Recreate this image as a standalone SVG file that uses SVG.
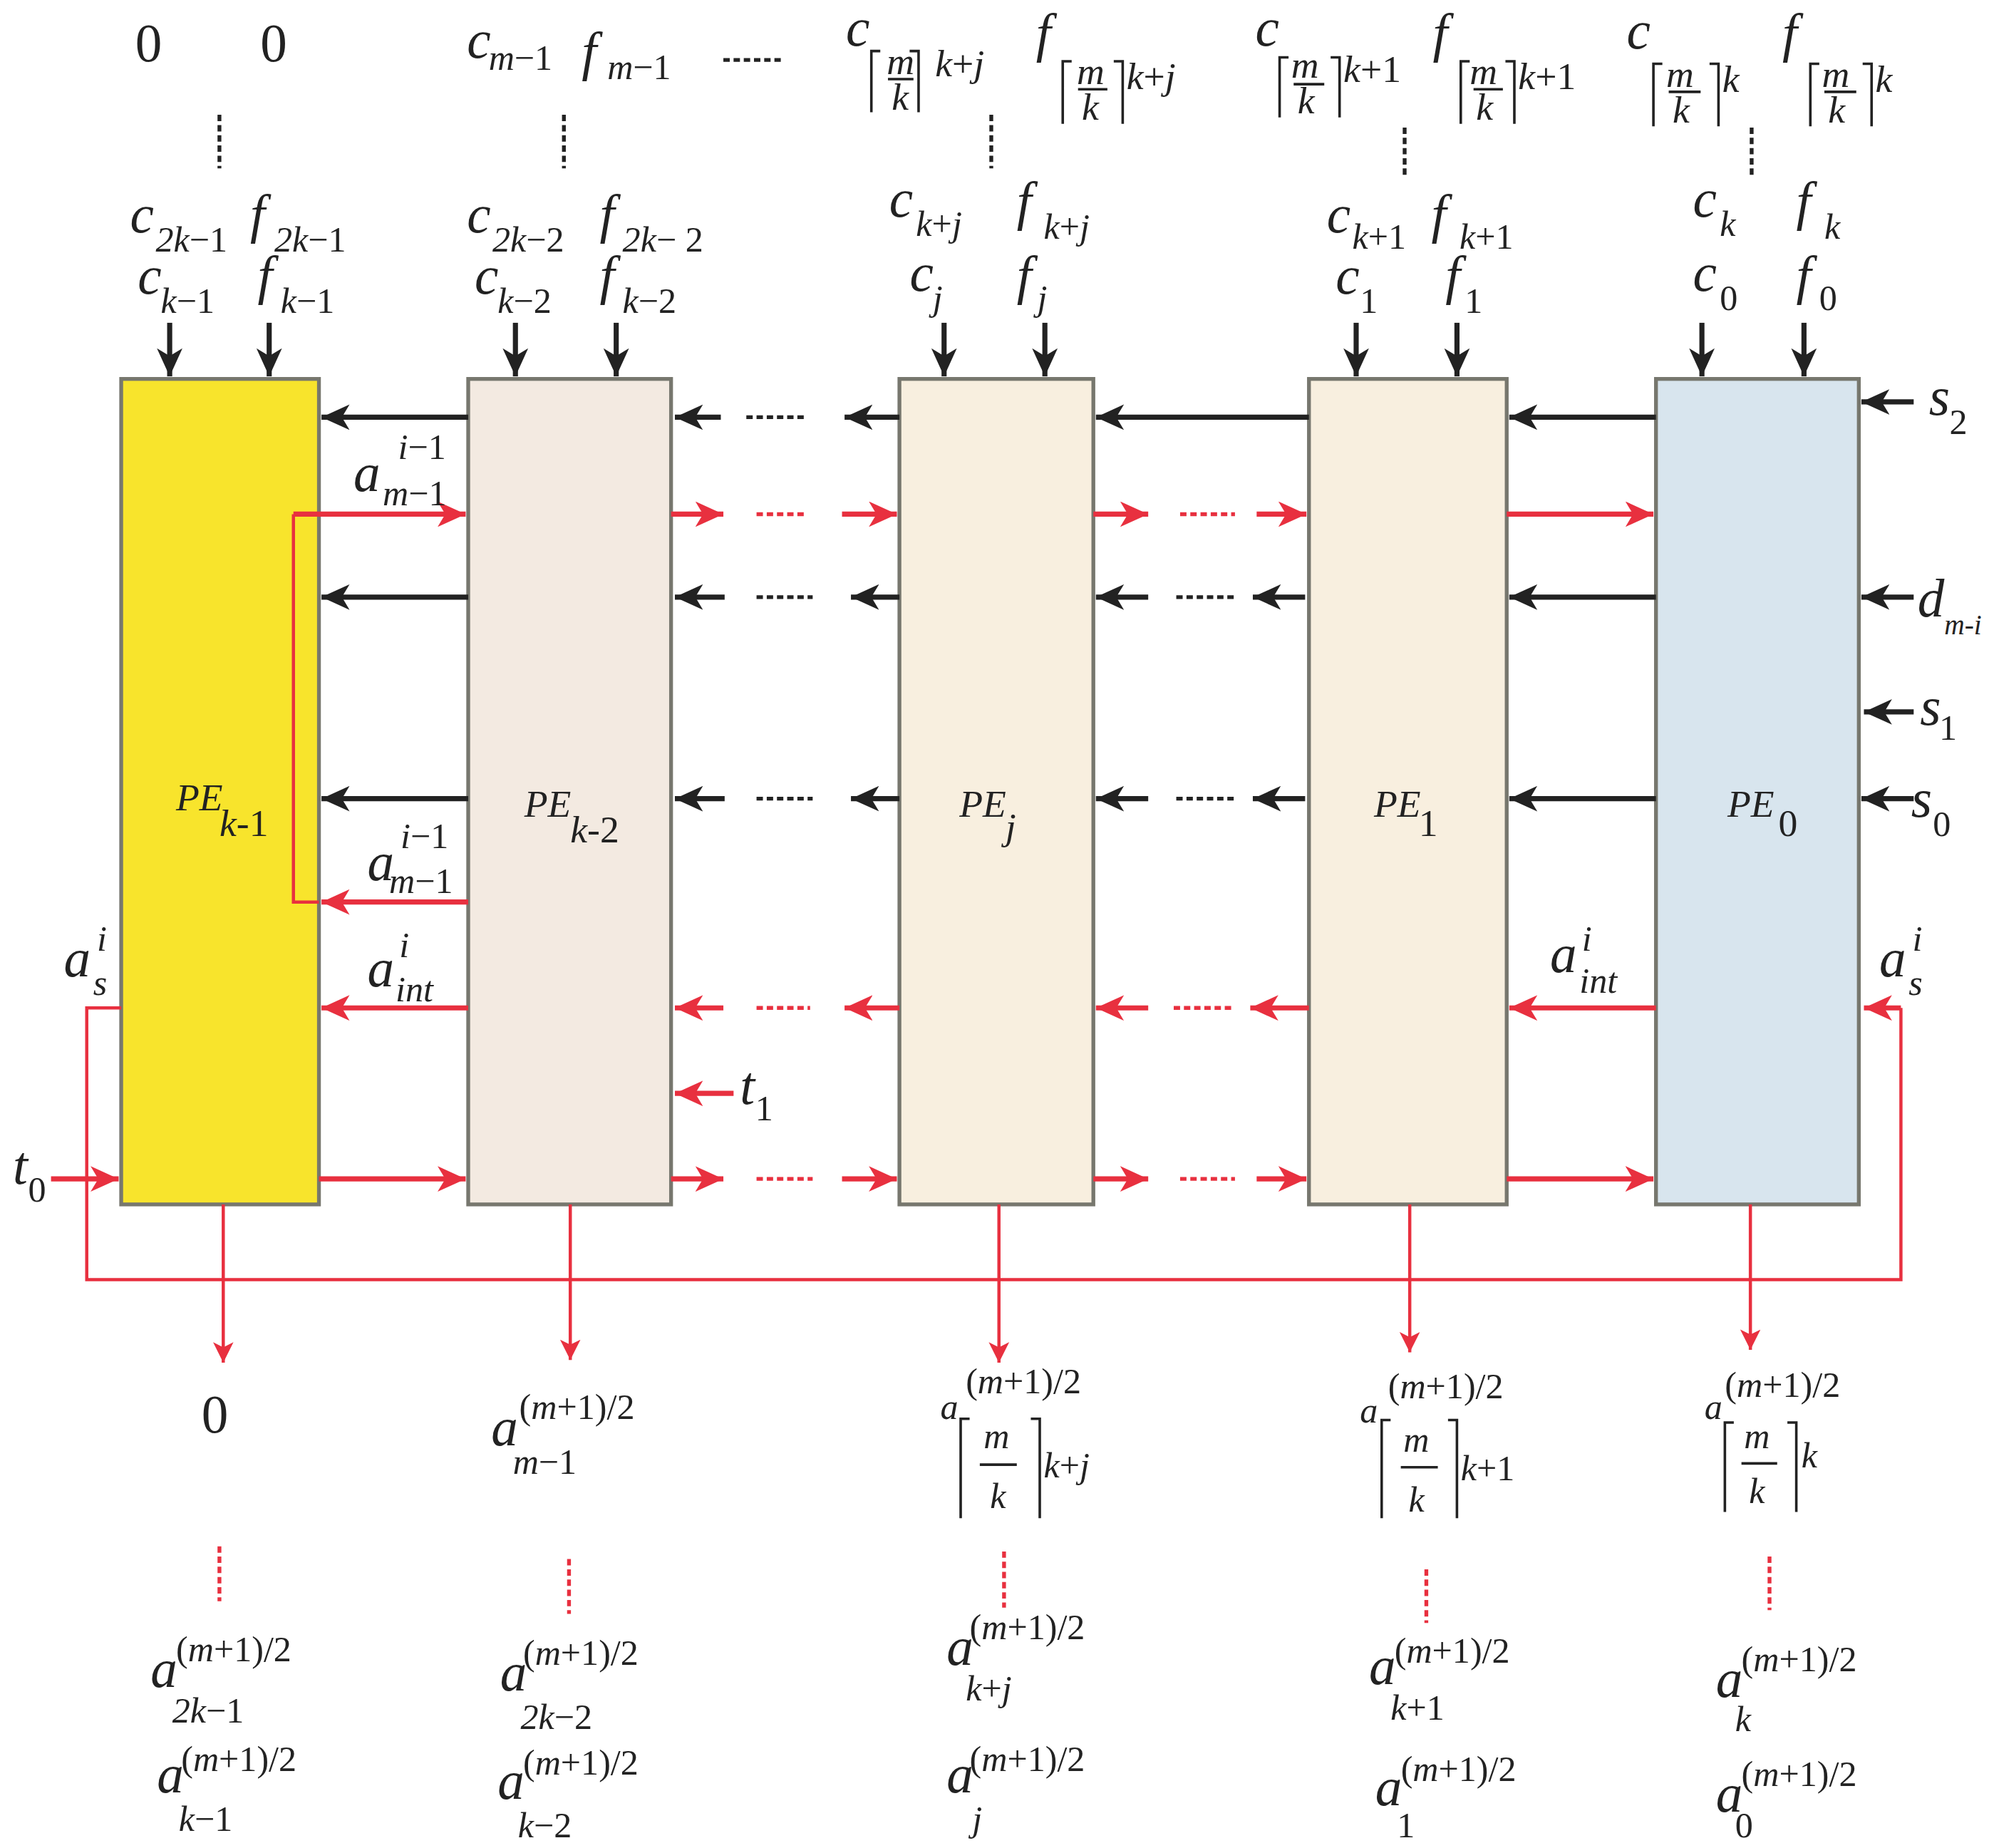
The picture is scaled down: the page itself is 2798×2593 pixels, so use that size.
<svg xmlns="http://www.w3.org/2000/svg" width="2798" height="2593" viewBox="0 0 2798 2593">
<style>
.t{font-family:"Liberation Serif","DejaVu Serif",serif;font-style:italic;fill:#222}
.m{font-size:42px}.s{font-size:28px}.u{font-size:30px}.n{font-style:normal}
.box{stroke:#77776e;stroke-width:3}
.bk{stroke:#222;stroke-width:4;fill:none;marker-end:url(#hb)}
.rd{stroke:#e8303f;stroke-width:4;fill:none;marker-end:url(#hr)}
.ro{stroke:#e8303f;stroke-width:2.5;fill:none;marker-end:url(#hr2)}
.rt{stroke:#e8303f;stroke-width:2.5;fill:none}
.bd{stroke:#222;stroke-width:3;fill:none;stroke-dasharray:5 3}
.rdd{stroke:#e8303f;stroke-width:3;fill:none;stroke-dasharray:5 3}
.br{stroke:#222;stroke-width:2;fill:none}
</style>
<defs>
<marker id="hb" markerUnits="userSpaceOnUse" markerWidth="24" markerHeight="20" refX="22" refY="10" orient="auto"><path d="M0,0L22,10L0,20L6,10Z" fill="#222"/></marker>
<marker id="hr" markerUnits="userSpaceOnUse" markerWidth="24" markerHeight="20" refX="22" refY="10" orient="auto"><path d="M0,0L22,10L0,20L6,10Z" fill="#e8303f"/></marker>
<marker id="hr2" markerUnits="userSpaceOnUse" markerWidth="18" markerHeight="16" refX="16" refY="8" orient="auto"><path d="M0,0L16,8L0,16L4,8Z" fill="#e8303f"/></marker>
</defs>
<rect width="2798" height="2593" fill="#fff"/>
<g transform="scale(1.7902)">
<g id="pe_k1"><rect class="box" x="95" y="297" width="155" height="647" fill="#f8e42c"/><text class="t" x="138" y="635" font-size="30">PE</text><text class="t" x="172" y="655" font-size="30">k<tspan class="n">-1</tspan></text></g>
<g id="pe_k2"><rect class="box" x="367" y="297" width="159" height="647" fill="#f3eae1"/><text class="t" x="411" y="640" font-size="30">PE</text><text class="t" x="447" y="660" font-size="30">k<tspan class="n">-2</tspan></text></g>
<g id="pe_j"><rect class="box" x="705" y="297" width="152" height="647" fill="#f8efdf"/><text class="t" x="752" y="640" font-size="30">PE</text><text class="t" x="788" y="658" font-size="30">j</text></g>
<g id="pe_1"><rect class="box" x="1026" y="297" width="155" height="647" fill="#f8efdf"/><text class="t" x="1077" y="640" font-size="30">PE</text><text class="t n" x="1112" y="655" font-size="30">1</text></g>
<g id="pe_0"><rect class="box" x="1298" y="297" width="159" height="647" fill="#d8e5ee"/><text class="t" x="1354" y="640" font-size="30">PE</text><text class="t n" x="1394" y="655" font-size="30">0</text></g>

<g id="connectors">
<path class="bk" d="M133,253V295"/><path class="bk" d="M211,253V295"/><path class="bk" d="M404,253V295"/><path class="bk" d="M483,253V295"/><path class="bk" d="M740,253V295"/><path class="bk" d="M819,253V295"/><path class="bk" d="M1063,253V295"/><path class="bk" d="M1142,253V295"/><path class="bk" d="M1334,253V295"/><path class="bk" d="M1414,253V295"/>
<path class="bk" d="M367,327H252"/><path class="bk" d="M565,327H529"/><path class="bk" d="M705,327H662"/><path class="bk" d="M1026,327H859"/><path class="bk" d="M1298,327H1183"/><path class="bk" d="M1500,315H1459"/>
<path class="bk" d="M367,468H252"/><path class="bk" d="M568,468H529"/><path class="bk" d="M705,468H667"/><path class="bk" d="M900,468H859"/><path class="bk" d="M1023,468H982"/><path class="bk" d="M1298,468H1183"/><path class="bk" d="M1500,468H1459"/>
<path class="bk" d="M367,626H252"/><path class="bk" d="M568,626H529"/><path class="bk" d="M705,626H667"/><path class="bk" d="M900,626H859"/><path class="bk" d="M1023,626H982"/><path class="bk" d="M1298,626H1183"/><path class="bk" d="M1500,626H1459"/><path class="bk" d="M1500,558H1461"/>
<path class="bd" d="M585,327H632M593,468H637M593,626H637M922,468H967M922,626H967"/>
<path class="rd" d="M230,403H365"/><path class="rd" d="M526,403H567"/><path class="rd" d="M660,403H703"/><path class="rd" d="M857,403H900"/><path class="rd" d="M985,403H1024"/><path class="rd" d="M1181,403H1296"/>
<path class="rd" d="M250,924H365"/><path class="rd" d="M526,924H567"/><path class="rd" d="M660,924H703"/><path class="rd" d="M857,924H900"/><path class="rd" d="M985,924H1024"/><path class="rd" d="M1181,924H1296"/><path class="rd" d="M40,924H93"/>
<path class="rdd" d="M593,403H632M925,403H968M593,924H637M925,924H968M593,790H635M920,790H965"/>
<path class="rd" d="M367,790H252"/><path class="rd" d="M567,790H529"/><path class="rd" d="M705,790H662"/><path class="rd" d="M900,790H859"/><path class="rd" d="M1026,790H980"/><path class="rd" d="M1298,790H1183"/><path class="rd" d="M575,857H529"/>
<path class="rt" d="M230,403V707H250"/>
<path class="rd" d="M367,707H252"/>
<path class="rt" d="M95,790H68V1003H1490V790"/>
<path class="rd" d="M1490,790H1461"/>
<path class="ro" d="M175,944V1068"/><path class="ro" d="M447,944V1066"/><path class="ro" d="M783,944V1068"/><path class="ro" d="M1105,944V1060"/><path class="ro" d="M1372,944V1058"/>
<path class="bd" d="M172,90V132M442,90V132M777,90V132M1101,100V140M1373,100V140M567,47H612"/>
<path class="rdd" d="M172,1212V1255M446,1222V1265M787,1216V1260M1118,1230V1272M1387,1220V1262"/>
</g>

<g id="labels" font-family="Liberation Serif, DejaVu Serif, serif">
<text class="t n m" x="106" y="48">0</text><text class="t n m" x="204" y="48">0</text>
<text class="t m" x="366" y="45">c</text><text class="t s" x="383" y="55">m<tspan class="n">−1</tspan></text>
<text class="t m" x="456" y="55">f</text><text class="t s" x="476" y="62">m<tspan class="n">−1</tspan></text>
<text class="t m" x="663" y="36">c</text><path class="br" d="M683,88V40H690M720,88V40H713M696,62H716"/><text class="t u" x="695" y="58">m</text><text class="t u" x="699" y="86">k</text><text class="t u" x="733" y="60">k<tspan class="n">+</tspan>j</text>
<text class="t m" x="812" y="40">f</text><path class="br" d="M833,97V48H840M880,97V48H873M845,70H868"/><text class="t u" x="844" y="66">m</text><text class="t u" x="848" y="94">k</text><text class="t u" x="883" y="70">k<tspan class="n">+</tspan>j</text>
<text class="t m" x="984" y="36">c</text><path class="br" d="M1003,92V45H1010M1050,92V45H1043M1014,66H1038"/><text class="t u" x="1012" y="61">m</text><text class="t u" x="1017" y="89">k</text><text class="t u n" x="1053" y="64"><tspan font-style="italic">k</tspan>+1</text>
<text class="t m" x="1123" y="40">f</text><path class="br" d="M1145,97V48H1152M1187,97V48H1180M1155,70H1178"/><text class="t u" x="1152" y="66">m</text><text class="t u" x="1157" y="94">k</text><text class="t u n" x="1190" y="70"><tspan font-style="italic">k</tspan>+1</text>
<text class="t m" x="1275" y="38">c</text><path class="br" d="M1296,99V50H1303M1347,99V50H1340M1308,72H1333"/><text class="t u" x="1306" y="68">m</text><text class="t u" x="1311" y="96">k</text><text class="t u" x="1350" y="72">k</text>
<text class="t m" x="1397" y="40">f</text><path class="br" d="M1419,99V50H1426M1467,99V50H1460M1430,72H1455"/><text class="t u" x="1428" y="68">m</text><text class="t u" x="1433" y="96">k</text><text class="t u" x="1470" y="72">k</text>
<text class="t m" x="102" y="182">c</text><text class="t s" x="122" y="197">2k<tspan class="n">−1</tspan></text>
<text class="t m" x="196" y="182">f</text><text class="t s" x="215" y="197">2k<tspan class="n">−1</tspan></text>
<text class="t m" x="108" y="230">c</text><text class="t s" x="126" y="245">k<tspan class="n">−1</tspan></text>
<text class="t m" x="202" y="230">f</text><text class="t s" x="220" y="245">k<tspan class="n">−1</tspan></text>
<text class="t m" x="366" y="182">c</text><text class="t s" x="386" y="197">2k<tspan class="n">−2</tspan></text>
<text class="t m" x="470" y="182">f</text><text class="t s" x="488" y="197">2k<tspan class="n">− 2</tspan></text>
<text class="t m" x="372" y="230">c</text><text class="t s" x="390" y="245">k<tspan class="n">−2</tspan></text>
<text class="t m" x="470" y="230">f</text><text class="t s" x="488" y="245">k<tspan class="n">−2</tspan></text>
<text class="t m" x="697" y="170">c</text><text class="t s" x="718" y="185">k<tspan class="n">+</tspan>j</text>
<text class="t m" x="797" y="172">f</text><text class="t s" x="818" y="187">k<tspan class="n">+</tspan>j</text>
<text class="t m" x="713" y="228">c</text><text class="t s" x="731" y="243">j</text>
<text class="t m" x="797" y="230">f</text><text class="t s" x="813" y="243">j</text>
<text class="t m" x="1040" y="182">c</text><text class="t s" x="1060" y="195">k<tspan class="n">+1</tspan></text>
<text class="t m" x="1122" y="182">f</text><text class="t s" x="1144" y="195">k<tspan class="n">+1</tspan></text>
<text class="t m" x="1047" y="230">c</text><text class="t s n" x="1066" y="245">1</text>
<text class="t m" x="1133" y="230">f</text><text class="t s n" x="1148" y="245">1</text>
<text class="t m" x="1327" y="170">c</text><text class="t s" x="1348" y="185">k</text>
<text class="t m" x="1408" y="172">f</text><text class="t s" x="1430" y="187">k</text>
<text class="t m" x="1327" y="228">c</text><text class="t s n" x="1348" y="243">0</text>
<text class="t m" x="1408" y="230">f</text><text class="t s n" x="1426" y="243">0</text>
<text class="t m" x="1512" y="325">s</text><text class="t s n" x="1528" y="340">2</text>
<text class="t m" x="1503" y="483">d</text><text class="t" x="1524" y="497" font-size="22">m<tspan class="n">-</tspan>i</text>
<text class="t m" x="1505" y="568">s</text><text class="t s n" x="1520" y="580">1</text>
<text class="t m" x="1498" y="640">s</text><text class="t s n" x="1515" y="655">0</text>
<text class="t m" x="277" y="385">a</text><text class="t s" x="312" y="360">i<tspan class="n">−1</tspan></text><text class="t s" x="300" y="396">m<tspan class="n">−1</tspan></text>
<text class="t m" x="288" y="690">a</text><text class="t s" x="314" y="665">i<tspan class="n">−1</tspan></text><text class="t s" x="305" y="700">m<tspan class="n">−1</tspan></text>
<text class="t m" x="288" y="773">a</text><text class="t s" x="313" y="750">i</text><text class="t s" x="310" y="785">int</text>
<text class="t m" x="1215" y="762">a</text><text class="t s" x="1240" y="745">i</text><text class="t s" x="1238" y="778">int</text>
<text class="t m" x="50" y="765">a</text><text class="t s" x="76" y="745">i</text><text class="t s" x="73" y="780">s</text>
<text class="t m" x="1473" y="765">a</text><text class="t s" x="1499" y="745">i</text><text class="t s" x="1496" y="780">s</text>
<text class="t m" x="580" y="865">t</text><text class="t s n" x="592" y="878">1</text>
<text class="t m" x="10" y="928">t</text><text class="t s n" x="22" y="942">0</text>
<text class="t n m" x="158" y="1123">0</text>
<text class="t m" x="385" y="1133">a</text><text class="t s n" x="407" y="1112">(<tspan font-style="italic">m</tspan>+1)/2</text><text class="t s" x="402" y="1155">m<tspan class="n">−1</tspan></text>
<text class="t s" x="737" y="1112">a</text><text class="t s n" x="757" y="1092">(<tspan font-style="italic">m</tspan>+1)/2</text><path class="br" d="M753,1190V1112H760M815,1190V1112H808M768,1148H797"/><text class="t s" x="771" y="1135">m</text><text class="t s" x="776" y="1182">k</text><text class="t s" x="818" y="1158">k<tspan class="n">+</tspan>j</text>
<text class="t s" x="1066" y="1115">a</text><text class="t s n" x="1088" y="1096">(<tspan font-style="italic">m</tspan>+1)/2</text><path class="br" d="M1083,1190V1113H1090M1142,1190V1113H1135M1098,1150H1127"/><text class="t s" x="1100" y="1138">m</text><text class="t s" x="1104" y="1185">k</text><text class="t s n" x="1145" y="1160"><tspan font-style="italic">k</tspan>+1</text>
<text class="t s" x="1336" y="1112">a</text><text class="t s n" x="1352" y="1095">(<tspan font-style="italic">m</tspan>+1)/2</text><path class="br" d="M1352,1185V1115H1359M1408,1185V1115H1401M1365,1147H1393"/><text class="t s" x="1367" y="1135">m</text><text class="t s" x="1371" y="1178">k</text><text class="t s" x="1412" y="1150">k</text>
<text class="t m" x="118" y="1322">a</text><text class="t s n" x="138" y="1302">(<tspan font-style="italic">m</tspan>+1)/2</text><text class="t s" x="135" y="1350">2k<tspan class="n">−1</tspan></text>
<text class="t m" x="123" y="1405">a</text><text class="t s n" x="142" y="1388">(<tspan font-style="italic">m</tspan>+1)/2</text><text class="t s" x="140" y="1435">k<tspan class="n">−1</tspan></text>
<text class="t m" x="392" y="1325">a</text><text class="t s n" x="410" y="1305">(<tspan font-style="italic">m</tspan>+1)/2</text><text class="t s" x="408" y="1355">2k<tspan class="n">−2</tspan></text>
<text class="t m" x="390" y="1410">a</text><text class="t s n" x="410" y="1391">(<tspan font-style="italic">m</tspan>+1)/2</text><text class="t s" x="406" y="1440">k<tspan class="n">−2</tspan></text>
<text class="t m" x="742" y="1305">a</text><text class="t s n" x="760" y="1285">(<tspan font-style="italic">m</tspan>+1)/2</text><text class="t s" x="757" y="1333">k<tspan class="n">+</tspan>j</text>
<text class="t m" x="742" y="1405">a</text><text class="t s n" x="760" y="1388">(<tspan font-style="italic">m</tspan>+1)/2</text><text class="t s" x="762" y="1435">j</text>
<text class="t m" x="1073" y="1320">a</text><text class="t s n" x="1093" y="1303">(<tspan font-style="italic">m</tspan>+1)/2</text><text class="t s n" x="1090" y="1348"><tspan font-style="italic">k</tspan>+1</text>
<text class="t m" x="1078" y="1415">a</text><text class="t s n" x="1098" y="1396">(<tspan font-style="italic">m</tspan>+1)/2</text><text class="t s n" x="1095" y="1440">1</text>
<text class="t m" x="1345" y="1330">a</text><text class="t s n" x="1365" y="1310">(<tspan font-style="italic">m</tspan>+1)/2</text><text class="t s" x="1360" y="1357">k</text>
<text class="t m" x="1345" y="1420">a</text><text class="t s n" x="1365" y="1400">(<tspan font-style="italic">m</tspan>+1)/2</text><text class="t s n" x="1360" y="1440">0</text>
</g>
</g>
</svg>
